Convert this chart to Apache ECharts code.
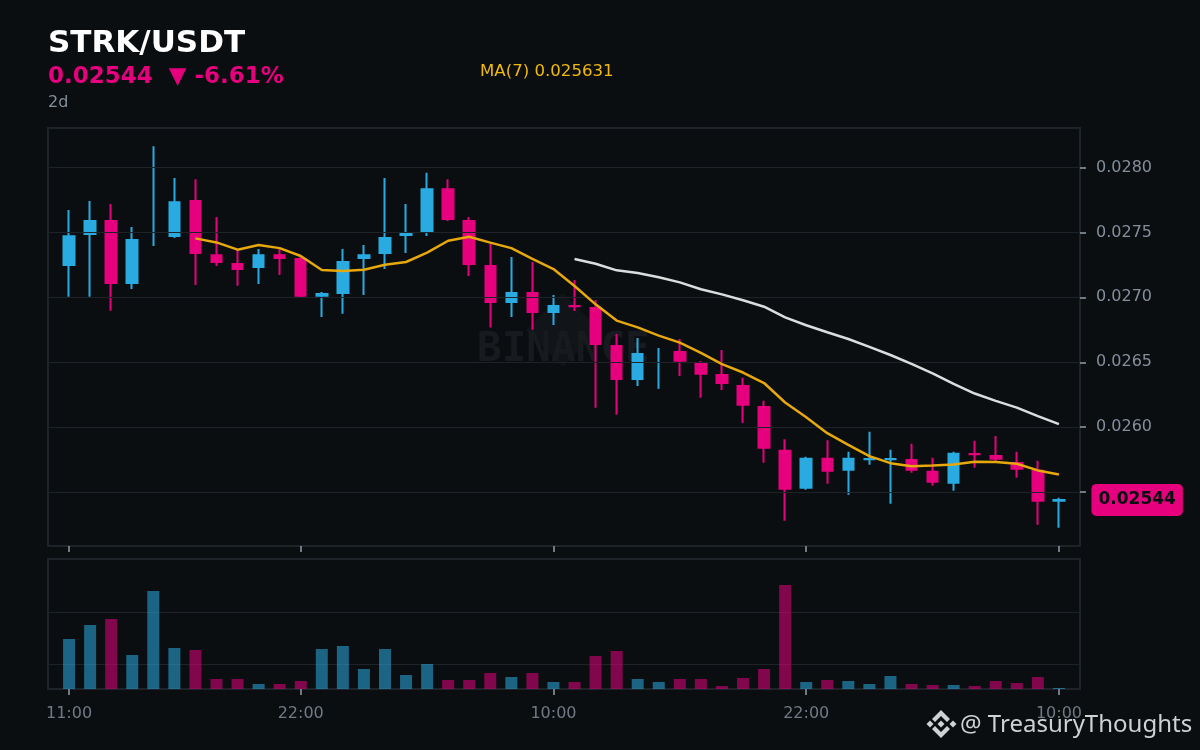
<!DOCTYPE html>
<html>
<head>
<meta charset="utf-8">
<style>html,body{margin:0;padding:0;background:#0a0e11}#c{width:1200px;height:750px}</style>
<script src="https://cdn.jsdelivr.net/npm/echarts@6/dist/echarts.min.js"></script>
</head>
<body>
<div id="c"></div>
<script>
const hours = ['10:00','11:00','12:00','13:00','14:00','15:00','16:00','17:00','18:00','19:00','20:00','21:00','22:00','23:00','00:00','01:00','02:00','03:00','04:00','05:00','06:00','07:00','08:00','09:00','10:00','11:00','12:00','13:00','14:00','15:00','16:00','17:00','18:00','19:00','20:00','21:00','22:00','23:00','00:00','01:00','02:00','03:00','04:00','05:00','06:00','07:00','08:00','09:00','10:00','11:00'];
const labelledSlots = [1,12,24,36,48];
const priceTicks = [0.0255,0.026,0.0265,0.027,0.0275,0.028];
const volumeGridValues = [74,230];
const lastPrice = 0.02544;
const wickOnly = [4,28];

const opens = [0.027249,0.027487,0.027587,0.027111,0.027700,0.027472,0.027741,0.027325,0.027256,0.027234,0.027325,0.027295,0.027013,0.027034,0.027303,0.027341,0.027480,0.027511,0.027833,0.027587,0.027241,0.026964,0.027033,0.026887,0.026934,0.026918,0.026625,0.026372,0.026450,0.026579,0.026487,0.026402,0.026318,0.026156,0.025818,0.025534,0.025756,0.025672,0.025753,0.025753,0.025748,0.025656,0.025572,0.025793,0.025779,0.025725,0.025664,0.025434];
const closes = [0.027471,0.027587,0.027111,0.027441,0.027702,0.027733,0.027341,0.027272,0.027218,0.027325,0.027303,0.027013,0.027025,0.027272,0.027325,0.027456,0.027487,0.027833,0.027603,0.027257,0.026964,0.027033,0.026887,0.026933,0.026932,0.026641,0.026372,0.026564,0.026452,0.026511,0.026411,0.026341,0.026172,0.025841,0.025526,0.025756,0.025664,0.025756,0.025755,0.025755,0.025672,0.025580,0.025795,0.025791,0.025757,0.025680,0.025434,0.025440];
const lows = [0.027005,0.027005,0.026897,0.027064,0.027395,0.027456,0.027095,0.027241,0.027090,0.027103,0.027172,0.026997,0.026849,0.026873,0.027018,0.027218,0.027341,0.027472,0.027587,0.027164,0.026767,0.026849,0.026751,0.026787,0.026895,0.026149,0.026095,0.026318,0.026295,0.026395,0.026226,0.026287,0.026033,0.025726,0.025279,0.025518,0.025564,0.025479,0.025710,0.025410,0.025649,0.025549,0.025510,0.025687,0.025733,0.025610,0.025249,0.025226];
const highs = [0.027672,0.027741,0.027718,0.027541,0.028164,0.027918,0.027910,0.027618,0.027370,0.027372,0.027377,0.027310,0.027041,0.027372,0.027403,0.027918,0.027718,0.027959,0.027910,0.027618,0.027415,0.027310,0.027272,0.027018,0.027133,0.026979,0.026718,0.026687,0.026610,0.026679,0.026510,0.026595,0.026380,0.026203,0.025908,0.025772,0.025900,0.025810,0.025964,0.025826,0.025872,0.025764,0.025810,0.025895,0.025933,0.025810,0.025741,0.025456];
const ma7 = [null,null,null,null,null,null,0.027454,0.027423,0.027367,0.027403,0.027379,0.027318,0.027210,0.027203,0.027213,0.027251,0.027272,0.027344,0.027436,0.027467,0.027421,0.027379,0.027297,0.027218,0.027087,0.026946,0.026821,0.026769,0.026705,0.026651,0.026572,0.026485,0.026421,0.026340,0.026190,0.026077,0.025954,0.025864,0.025777,0.025723,0.025700,0.025705,0.025713,0.025733,0.025731,0.025718,0.025667,0.025636];
const ma25 = [null,null,null,null,null,null,null,null,null,null,null,null,null,null,null,null,null,null,null,null,null,null,null,null,0.027295,0.027259,0.027208,0.027187,0.027154,0.027115,0.027062,0.027023,0.026977,0.026928,0.026846,0.026785,0.026731,0.026679,0.026618,0.026556,0.026487,0.026415,0.026333,0.026259,0.026203,0.026151,0.026085,0.026023];
const volumes = [150,192,210,102,294,123,117,30,30,15,15,24,120,129,60,120,42,75,27,27,48,36,48,21,21,99,114,30,21,30,30,9,33,60,312,21,27,24,15,39,15,12,12,9,24,18,36,3];

const UP = '#29abe2', DOWN = '#e6007e', UPV = 'rgba(41,171,226,0.55)', DOWNV = 'rgba(230,0,126,0.55)';
const GRID = '#1e2329', TXT = '#848e9c', TICK = '#6f7a85';
const pad = a => ['-'].concat(a.map(v => v === null ? '-' : v), ['-']);
const candle = i => [opens[i], closes[i], lows[i], highs[i]];
const solid = [], thin = [], vols = ['-'];
opens.forEach((o, i) => {
  const isThin = wickOnly.includes(i);
  solid.push(isThin ? '-' : candle(i));
  thin.push(isThin ? candle(i) : '-');
  vols.push({value: volumes[i], itemStyle: {color: closes[i] > o ? UPV : DOWNV}});
});
vols.push('-');
const xInterval = (idx) => labelledSlots.includes(idx);
const cStyle = {color: UP, color0: DOWN, borderColor: UP, borderColor0: DOWN, borderWidth: 2};

const diamond = (cx, cy, r, fill, z) => ({type: 'polygon', z: z === undefined ? 50 : z, silent: true, shape: {points: [[cx, cy - r], [cx + r, cy], [cx, cy + r], [cx - r, cy]]}, style: {fill}});
const poly = (points, fill) => ({type: 'polygon', z: 50, silent: true, shape: {points}, style: {fill}});
const text = (t, x, y, font, fill, z) => ({type: 'text', z: z === undefined ? 50 : z, silent: true, style: {text: t, x, y, font, fill, verticalAlign: 'middle'}});
const LOGO = '#cfd1d3';

const option = {
  animation: false,
  backgroundColor: '#0a0e11',
  textStyle: {fontFamily: 'DejaVu Sans'},
  graphic: {elements: [
    diamond(563, 330, 37, '#111519', 0),
    text('BINANCE', 477, 350, 'bold 41px "DejaVu Sans Mono"', '#171b1f', 0),
    text('STRK/USDT', 48, 44, 'bold 31px "DejaVu Sans"', '#ffffff'),
    text('0.02544  \u25BC -6.61%', 48, 77, 'bold 23px "DejaVu Sans"', DOWN),
    text('2d', 48, 103, '16px "DejaVu Sans"', TXT),
    text('MA(7) 0.025631', 480, 72, '16.6px "DejaVu Sans"', '#f0b90b'),
    text('@ TreasuryThoughts', 960, 725, '24px "Noto Sans"', '#cfd1d3'),
    diamond(930, 724, 3.5, LOGO),
    diamond(953, 724, 3.5, LOGO),
    diamond(941, 724, 3.5, LOGO),
    poly([[941,710],[950,719],[947,722],[941,716],[935,722],[932,719]], LOGO),
    poly([[941,738],[950,729],[947,726],[941,732],[935,726],[932,729]], LOGO)
  ]},
  grid: [
    {left: 48, top: 128, width: 1032, height: 418, show: true, borderColor: GRID, borderWidth: 2, backgroundColor: 'transparent', z: 0},
    {left: 48, top: 559, width: 1032, height: 130, show: true, borderColor: GRID, borderWidth: 2, backgroundColor: '#0a0e11', z: 1}
  ],
  xAxis: [
    {type: 'category', gridIndex: 0, data: hours, boundaryGap: false, z: 0,
      axisLine: {show: false},
      axisTick: {show: true, interval: xInterval, length: 6, lineStyle: {color: TICK, width: 2}},
      axisLabel: {show: true, interval: xInterval, color: TICK, fontSize: 16, margin: 12, hideOverlap: false},
      splitLine: {show: false}},
    {type: 'category', gridIndex: 1, data: hours, boundaryGap: false, z: 3,
      axisLine: {show: false},
      axisTick: {show: true, interval: xInterval, length: 6, lineStyle: {color: TICK, width: 2}},
      axisLabel: {show: true, interval: xInterval, color: TICK, fontSize: 16, margin: 17},
      splitLine: {show: false}}
  ],
  yAxis: [
    {type: 'value', gridIndex: 0, position: 'right', min: 0.025085, max: 0.028304, z: 6,
      axisLine: {show: false},
      axisTick: {show: true, length: 6, customValues: priceTicks, lineStyle: {color: TICK, width: 2}},
      axisLabel: {show: true, customValues: priceTicks, color: TXT, fontSize: 16, margin: 16, padding: [3, 0, 0, 0], formatter: v => v.toFixed(4)},
      splitLine: {show: true, lineStyle: {color: GRID, width: 1}}},
    {type: 'value', gridIndex: 1, position: 'right', min: 0, max: 390, z: 1.5,
      axisLine: {show: false},
      axisTick: {show: false, customValues: volumeGridValues},
      axisLabel: {show: false},
      splitLine: {show: true, lineStyle: {color: GRID, width: 1}}}
  ],
  series: [
    {name: 'Price', type: 'candlestick', xAxisIndex: 0, yAxisIndex: 0, z: 5, barWidth: 11, itemStyle: cStyle, data: pad(solid)},
    {name: 'Wick only', type: 'candlestick', xAxisIndex: 0, yAxisIndex: 0, z: 5, barWidth: 1, itemStyle: cStyle, data: pad(thin)},
    {name: 'MA(7)', type: 'line', xAxisIndex: 0, yAxisIndex: 0, z: 8, data: pad(ma7), showSymbol: false, symbol: 'none',
      lineStyle: {color: '#e6a80c', width: 2.5}},
    {name: 'MA(25)', type: 'line', xAxisIndex: 0, yAxisIndex: 0, z: 8, data: pad(ma25), showSymbol: false, symbol: 'none',
      lineStyle: {color: '#dcdcdc', width: 2.5}},
    {name: 'Last price', type: 'scatter', xAxisIndex: 0, yAxisIndex: 0, z: 20, clip: false, silent: true, symbolSize: 1,
      itemStyle: {color: 'transparent', opacity: 1}, data: [[48, lastPrice]],
      label: {show: true, position: 'right', distance: 32, opacity: 1, formatter: () => lastPrice.toFixed(5), backgroundColor: DOWN, color: '#0b0e11',
        fontWeight: 'bold', fontSize: 17, lineHeight: 17, fontFamily: 'DejaVu Sans', padding: [8, 7, 7, 7], borderRadius: 5}},
    {name: 'Volume', type: 'bar', xAxisIndex: 1, yAxisIndex: 1, z: 2, barWidth: 12, data: vols}
  ]
};
echarts.init(document.getElementById('c')).setOption(option);
</script>
</body>
</html>
